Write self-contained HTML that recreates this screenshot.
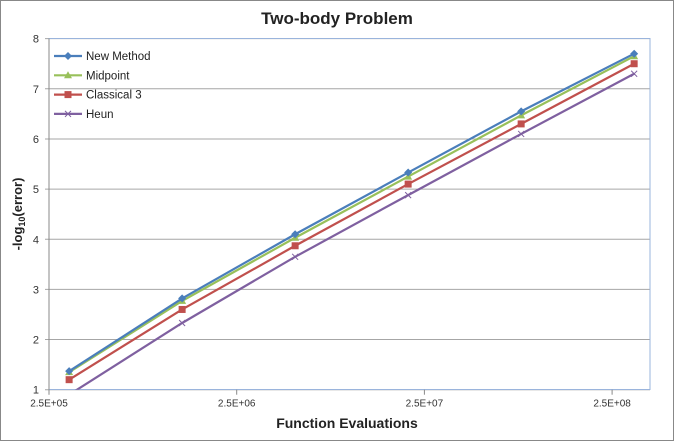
<!DOCTYPE html>
<html><head><meta charset="utf-8"><style>
body{margin:0;background:#fff;}
svg{display:block;font-family:"Liberation Sans",sans-serif;}
</style></head><body>
<svg width="674" height="441" viewBox="0 0 674 441">
<rect x="0.5" y="0.5" width="673" height="440" fill="#fff" stroke="#888"/>
<text x="337" y="24" text-anchor="middle" font-size="17" font-weight="bold" fill="#222">Two-body Problem</text>
<g id="grid"></g>
<rect x="49" y="38.5" width="601" height="351" fill="none" stroke="#9ab4dc"/>
<g id="axes"></g>
<g id="series"></g>
<text x="347" y="428" text-anchor="middle" font-size="14" font-weight="bold" fill="#222">Function Evaluations</text>
<text transform="translate(22,214) rotate(-90)" text-anchor="middle" font-size="13" font-weight="bold" fill="#222">-log<tspan font-size="9" dy="3">10</tspan><tspan dy="-3">(error)</tspan></text>
<g id="legend"></g>
</svg>
<script>
const categories=[3.2e5,1.28e6,5.12e6,2.048e7,8.192e7,3.2768e8];
const seriesNames=["New Method","Midpoint","Classical 3","Heun"];
const newMethod=[1.37,2.82,4.1,5.33,6.55,7.7];
const midpoint=[1.35,2.77,4.03,5.25,6.47,7.65];
const classical3=[1.2,2.6,3.87,5.1,6.3,7.5];
const heun=[0.9,2.33,3.65,4.88,6.1,7.3];
const yTicks=[1,2,3,4,5,6,7,8];
const xTicks=[2.5e5,2.5e6,2.5e7,2.5e8];
const xTickLabels=["2.5E+05","2.5E+06","2.5E+07","2.5E+08"];
const NS="http://www.w3.org/2000/svg";
const X0=49,PX=187.7,Y1=389.7,PY=50.15,TOP=38.5;
function xs(v){return X0+Math.log10(v/2.5e5)*PX;}
function ys(v){return Y1-(v-1)*PY;}
function mk(t,a,p){const e=document.createElementNS(NS,t);for(const k in a)e.setAttribute(k,a[k]);p.appendChild(e);return e;}
const grid=document.getElementById('grid'),axes=document.getElementById('axes'),ser=document.getElementById('series'),leg=document.getElementById('legend');
yTicks.forEach(v=>{
 const l=mk('line',{x1:X0-4,x2:650,y1:ys(v),y2:ys(v),stroke:'#a6a6a6','stroke-width':1},grid);
 
 
 const t=mk('text',{x:X0-10,y:ys(v)+4,'text-anchor':'end','font-size':11,fill:'#333'},axes);
 t.textContent=v;
 
 
});
const ax=mk('line',{x1:X0,x2:X0,y1:TOP,y2:Y1,stroke:'#888'},axes);


xTicks.forEach((v,i)=>{
 mk('line',{x1:xs(v),x2:xs(v),y1:Y1,y2:Y1+5,stroke:'#888'},axes);
 const t=mk('text',{x:xs(v),y:Y1+17,'text-anchor':'middle','font-size':10,fill:'#333'},axes);
 t.textContent=xTickLabels[i];
 
 
});
const cp=mk('clipPath',{id:'cp'},ser);mk('rect',{x:X0,y:TOP,width:601,height:Y1-TOP},cp);
const colors=["#4a7ebb","#98c05a","#c0504d","#7f60a0"];
const data=[newMethod,midpoint,classical3,heun];
const names=["series-new-method","series-midpoint","series-classical-3","series-heun"];
function marker(i,x,y,g){
 if(i===0)return mk('path',{d:`M${x} ${y-4}L${x+4} ${y}L${x} ${y+4}L${x-4} ${y}Z`,fill:colors[0]},g);
 if(i===1)return mk('path',{d:`M${x} ${y-4}L${x+4} ${y+3}L${x-4} ${y+3}Z`,fill:colors[1]},g);
 if(i===2)return mk('rect',{x:x-3.5,y:y-3.5,width:7,height:7,fill:colors[2]},g);
 return mk('path',{d:`M${x-3} ${y-3}L${x+3} ${y+3}M${x-3} ${y+3}L${x+3} ${y-3}`,stroke:colors[3],'stroke-width':1},g);
}
[3,2,1,0].forEach(i=>{
 const g=mk('g',{'clip-path':'url(#cp)'},ser);
 
 
 const pts=data[i].map((v,j)=>xs(categories[j])+','+ys(v)).join(' ');
 mk('polyline',{points:pts,fill:'none',stroke:colors[i],'stroke-width':2.2},g);
 data[i].forEach((v,j)=>{const m=marker(i,xs(categories[j]),ys(v),g);
  
  });
});
seriesNames.forEach((n,i)=>{
 const y=56+i*19.3;
 const g=mk('g',{},leg);
 
 
 mk('line',{x1:54,x2:82,y1:y,y2:y,stroke:colors[i],'stroke-width':2.2},g);
 marker(i,68,y,g);
 const t=mk('text',{x:86,y:y+4,'font-size':11.5,fill:'#222'},g);
 t.textContent=n;
});
</script>
</body></html>
